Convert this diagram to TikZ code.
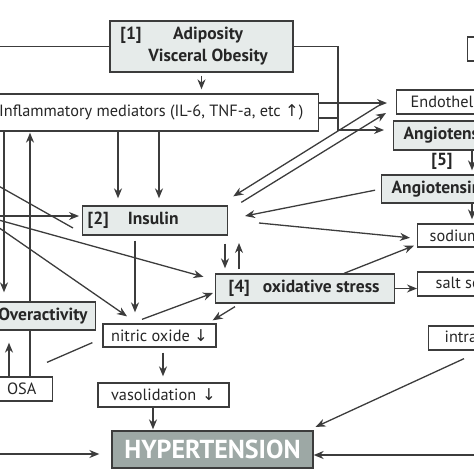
\documentclass[tikz,border=0pt]{standalone}
\usepackage{fontspec}
\setmainfont{PT Sans}
\newfontfamily\symfont{DejaVu Sans}
\usetikzlibrary{arrows.meta,positioning}
\definecolor{boxline}{HTML}{3C3C3C}
\definecolor{boxfill}{HTML}{E6EBEA}
\definecolor{hypfill}{HTML}{9DA8A5}
\newcommand{\upar}{{\symfont ↑}}
\newcommand{\dnar}{{\symfont ↓}}

\begin{document}
\begin{tikzpicture}[x=1pt, y=-1pt,
    every node/.style={font=\fontsize{16.3}{22}\selectfont, text=black!85},
    wbox/.style={draw=boxline, line width=1.3pt, fill=white, inner ysep=0pt},
    gbox/.style={wbox, fill=boxfill, font=\fontsize{17.5}{22}\selectfont\bfseries},
    bold/.style={font=\fontsize{17.5}{22}\selectfont\bfseries},
    arr/.style={draw=boxline, line width=1.3pt, -{Stealth[length=10pt,width=8pt]}},
    ln/.style={draw=boxline, line width=1.3pt}]
    \useasboundingbox (0,0) rectangle (474,474);

    % boxes
    \node[gbox, minimum width=183pt, minimum height=51pt] (adip) at (201.5,46.5) {};
    \node[bold, align=center] (adiptxt) at (208,46.5) {Adiposity\\Visceral Obesity};
    \node[bold] (adipnum) at (131,35) {[1]};
    \node[wbox, anchor=east, minimum height=37pt, inner xsep=15pt] (infl) at (319,112.5) {Inflammatory mediators (IL-6, TNF-a, etc \upar)};
    \node[wbox, anchor=west, minimum height=24pt, inner xsep=14pt] (endo) at (396,102) {Endothelin};
    \node[gbox, anchor=west, minimum height=29pt, inner xsep=10pt] (angen) at (393,135.5) {Angiotensinogen};
    \node[bold] (num5) at (442,161) {[5]};
    \node[gbox, anchor=west, minimum height=28pt, inner xsep=10pt] (angII) at (381,189) {Angiotensin II};
    \node[wbox, anchor=west, minimum height=23pt, inner xsep=12pt] (sodium) at (417,235.5) {sodium retention};
    \node[wbox, anchor=west, minimum height=24pt, inner xsep=18pt] (salt) at (417,284) {salt sensitivity};
    \node[wbox, anchor=west, minimum height=24pt, minimum width=40pt] (topbox) at (467,49) {};
    \node[wbox, anchor=west, minimum height=24pt, inner xsep=16pt] (intra) at (428,338) {intrarenal pressure};
    \node[gbox, anchor=west, inner xsep=5pt, minimum height=29pt] (ins) at (82,220.5) {\makebox[135pt][l]{[2]\hspace{19pt}Insulin}};
    \node[gbox, anchor=west, inner xsep=13pt, minimum height=29pt] (ox) at (215,288.5) {\makebox[153pt][l]{[4]\hspace{13pt}oxidative stress}};
    \node[gbox, anchor=east, minimum height=28pt, inner xsep=8pt] (overact) at (96,316) {Overactivity};
    \node[wbox, anchor=east, minimum height=24pt, inner xsep=16pt] (osa) at (53,389) {OSA};
    \node[wbox, minimum width=113pt, minimum height=23pt] (nitric) at (159.5,335.5) {nitric oxide \dnar};
    \node[wbox, minimum width=131pt, minimum height=24pt] (vaso) at (163.5,395) {vasolidation\hspace{6pt}\dnar};
    \node[wbox, fill=hypfill, minimum width=201pt, minimum height=37pt, text=white, font=\fontsize{26}{30}\selectfont\bfseries] (hyp) at (212.5,449.5) {HYPERTENSION};

    % free ends and guide points
    \coordinate (lA) at (-5,46.5);
    \coordinate (lB) at (-5,216);
    \coordinate (lC) at (-5,184);
    \coordinate (lD) at (-5,219);
    \coordinate (lE) at (-5,225);
    \coordinate (lF) at (-5,454);
    \coordinate (rF) at (480,455);
    \coordinate (jA) at (338,130);
    \coordinate (hubin) at (245,216);
    \coordinate (hubout) at (259,223);
    \coordinate (hubup) at (239,243);
    \coordinate (cI1) at (118,0);
    \coordinate (cI2) at (159,0);
    \coordinate (cI3) at (135,0);
    \coordinate (cS1) at (4,0);
    \coordinate (cS2) at (30,0);
    \coordinate (cS3) at (9,0);
    \coordinate (cO1) at (225,0);
    \coordinate (cO2) at (239,0);
    \coordinate (cV1) at (163,0);
    \coordinate (cV2) at (153,0);
    \coordinate (cR) at (472,0);

    % connectors
    \draw[ln] (adip.west) -- (lA);
    \draw[arr, shorten >=9pt] (adip.east) -| (jA) -- ([yshift=5.5pt]angen.west);
    \draw[ln] ([yshift=-5.5pt]infl.east) -- ([yshift=-5.5pt]infl.east -| jA);
    \draw[arr, shorten >=9pt] ([yshift=9.5pt]infl.east) -- ([yshift=9.5pt]infl.east -| endo.west);
    \draw[arr, shorten <=3pt, shorten >=4pt] (adip.south) -- (adip.south |- infl.north);
    \draw[arr] ([xshift=-18pt,yshift=-4pt]endo.west) -- ([xshift=5pt,yshift=9pt]ins.north east);
    \draw[arr] ([xshift=13pt,yshift=3pt]ins.north east) -- ([xshift=-10pt,yshift=-11pt]endo.west);
    \draw[arr, shorten >=7pt] (infl.south -| cI1) -- (ins.north -| cI1);
    \draw[arr, shorten >=7pt] (infl.south -| cI2) -- (ins.north -| cI2);
    \draw[arr, shorten >=9pt] (infl.south -| cS1) -- (overact.north -| cS1);
    \draw[ln] (osa.north -| cS2) -- (overact.south -| cS2);
    \draw[arr, shorten >=1pt] (overact.north -| cS2) -- (infl.south -| cS2);
    \draw[arr, shorten >=12pt] (osa.north -| cS3) -- (overact.south -| cS3);
    \draw[arr, shorten >=3pt] (lB) -- ([yshift=4.5pt]ins.west);
    \draw[ln] (lC) -- ([xshift=-9pt,yshift=-7.5pt]ins.west);
    \draw[arr, shorten >=12pt] (lD) -- ([yshift=8.5pt]ox.west);
    \draw[arr] (lE) -- ([xshift=-32.5pt,yshift=7pt]nitric.north);
    \draw[arr, shorten <=5pt, shorten >=11pt] (ins.south -| cI3) -- (nitric.north -| cI3);
    \draw[arr, shorten <=8pt, shorten >=5pt] (ins.south -| cO1) -- (ox.north -| cO1);
    \draw[arr, shorten <=4pt] (ox.north -| cO2) -- (hubup);
    \draw[arr, shorten <=6pt] (angII.west) -- (hubin);
    \draw[arr, shorten >=7pt] (hubout) -- ([yshift=-3pt]sodium.west);
    \draw[arr] ([xshift=129pt]ox.north west) -- ([xshift=-3pt,yshift=2pt]sodium.south west);
    \draw[arr] (ox.east) -- (ox.east -| salt.west);
    \draw[arr, shorten >=4pt] (angen.south -| cR) -- (angII.north -| cR);
    \draw[arr, shorten >=4pt] (angII.south -| cR) -- (sodium.north -| cR);
    \draw[ln] ([xshift=-6pt,yshift=14pt]osa.north east) -- ([xshift=-10pt,yshift=5pt]nitric.south west);
    \draw[arr] ([xshift=-17.5pt,yshift=4pt]nitric.north) -- ([xshift=-2pt,yshift=-4.5pt]ox.west);
    \draw[arr] ([xshift=20pt,yshift=-3pt]ox.south west) -- ([xshift=-4pt,yshift=3pt]nitric.north east);
    \draw[arr, shorten <=5pt, shorten >=6pt] (nitric.south -| cV1) -- (vaso.north -| cV1);
    \draw[arr, shorten >=1pt] (vaso.south -| cV2) -- (hyp.north -| cV2);
    \draw[arr, shorten >=12pt] (lF) -- (lF -| hyp.west);
    \draw[arr] (rF) -- (rF -| hyp.east);
    \draw[arr, shorten >=1pt] ([xshift=36pt,yshift=-8pt]intra.south west) -- ([xshift=1pt,yshift=3pt]hyp.north east);
\end{tikzpicture}
\end{document}
